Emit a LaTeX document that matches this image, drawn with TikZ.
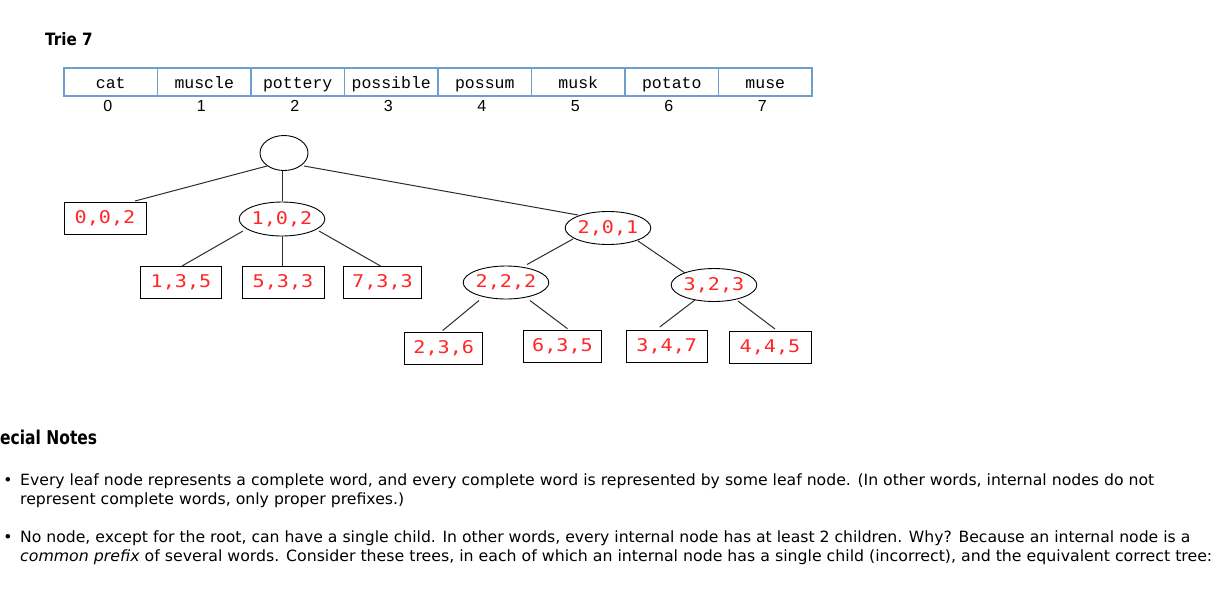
\documentclass[tikz,border=0pt]{standalone}
\usepackage{fontspec}
\usepackage{graphicx}
\setmainfont{DejaVu Sans}
\newfontfamily\cellfont{Liberation Mono}
\newfontfamily\idxfont{Liberation Sans}
\newfontfamily\keyfont{DejaVu Sans Mono}
\usetikzlibrary{shapes.geometric}
\definecolor{cellblue}{RGB}{110,157,208}
\definecolor{keyred}{RGB}{255,38,38}
\definecolor{edgegray}{RGB}{45,45,45}
\tikzset{
  cellbox/.style={draw=cellblue,line width=1.8pt,minimum width=93.5pt,minimum height=28pt,inner sep=0pt},
  celltext/.style={anchor=base,inner sep=0pt,font=\cellfont\fontsize{16.5}{18}\selectfont},
  idxtext/.style={anchor=base,inner sep=0pt,font=\idxfont\fontsize{16}{18}\selectfont},
  keyrect/.style={draw=black,line width=0.9pt,rectangle,minimum height=32pt,inner sep=0pt,text=keyred,font=\keyfont\fontsize{17.5}{19}\selectfont},
  keyell/.style={draw=black,line width=0.9pt,ellipse,minimum width=82pt,minimum height=33pt,inner sep=0pt,text=keyred,font=\keyfont\fontsize{17.5}{19}\selectfont},
  edge/.style={draw=edgegray,line width=1pt},
  notetext/.style={anchor=base west,inner sep=0pt,font=\fontsize{15.5}{19}\selectfont},
  bullettext/.style={anchor=base,inner sep=0pt,font=\fontsize{15.5}{19}\selectfont},
}
\newcommand{\keylabel}[1]{\scalebox{1.15}[1]{#1}}
\begin{document}
\begin{tikzpicture}[x=1pt,y=-1pt]
\useasboundingbox[fill=white] (0,0) rectangle (1226,611);
% title
\node[anchor=base west,inner sep=0pt,font=\bfseries\fontsize{17}{20}\selectfont] (title) at (45,45) {\resizebox{47.5pt}{\height}{Trie 7}};
% array
\foreach \w [count=\i from 0] in {cat,muscle,pottery,possible,possum,musk,potato,muse}{
  \node[cellbox] (c\i) at ({64+93.5*(\i+0.5)},82) {};
  \node[celltext] (w\i) at ({64+93.5*(\i+0.5)},88.3) {\w};
  \node[idxtext] (x\i) at ({64+93.5*(\i+0.5)-3},111.7) {\i};
}
% tree nodes
\node[ellipse,draw=black,line width=0.9pt,minimum width=48pt,minimum height=35pt,inner sep=0pt] (root) at (284,153) {};
\node[keyrect,minimum width=82pt] (n002) at (105,218) {\keylabel{0,0,2}};
\node[keyell,minimum width=83pt,minimum height=34pt] (n102) at (282,219) {\keylabel{1,0,2}};
\node[keyrect,minimum width=81pt] (n135) at (181,282) {\keylabel{1,3,5}};
\node[keyrect,minimum width=82pt] (n533) at (283,282) {\keylabel{5,3,3}};
\node[keyrect,minimum width=78pt] (n733) at (382.5,282) {\keylabel{7,3,3}};
\node[keyell] (n201) at (608,228) {\keylabel{2,0,1}};
\node[keyell] (n222) at (506,282.5) {\keylabel{2,2,2}};
\node[keyell] (n323) at (714,285) {\keylabel{3,2,3}};
\node[keyrect,minimum width=78pt] (n236) at (443.7,348.5) {\keylabel{2,3,6}};
\node[keyrect,minimum width=78pt] (n635) at (562.5,346.7) {\keylabel{6,3,5}};
\node[keyrect,minimum width=81pt] (n347) at (666.7,346) {\keylabel{3,4,7}};
\node[keyrect,minimum width=82pt] (n445) at (770,347) {\keylabel{4,4,5}};
% edges
\draw[edge] ([shift={(-17,13)}]root.center) -- ([shift={(30,-17)}]n002.center);
\draw[edge] ([shift={(-2,17.5)}]root.center) -- ([shift={(0,-18)}]n102.center);
\draw[edge] ([shift={(20,13)}]root.center) -- ([shift={(-30,-13)}]n201.center);
\draw[edge] ([shift={(-39,12)}]n102.center) -- ([shift={(1,-16)}]n135.center);
\draw[edge] ([shift={(0,17)}]n102.center) -- ([shift={(-1,-16)}]n533.center);
\draw[edge] ([shift={(37,12)}]n102.center) -- ([shift={(-2,-16)}]n733.center);
\draw[edge] ([shift={(-35,11)}]n201.center) -- ([shift={(21,-18)}]n222.center);
\draw[edge] ([shift={(30,13)}]n201.center) -- ([shift={(-29,-12)}]n323.center);
\draw[edge] ([shift={(-27,18)}]n222.center) -- ([shift={(-1,-18)}]n236.center);
\draw[edge] ([shift={(24,18)}]n222.center) -- ([shift={(5,-18)}]n635.center);
\draw[edge] ([shift={(-19,15)}]n323.center) -- ([shift={(-7,-19)}]n347.center);
\draw[edge] ([shift={(24,16)}]n323.center) -- ([shift={(5,-18)}]n445.center);
% notes
\node[anchor=base west,inner sep=0pt,font=\bfseries\fontsize{19}{22}\selectfont] (heading) at (0,444) {\resizebox{97pt}{\height}{ecial Notes}};
\node[bullettext] (b1) at (8,485.5) {•};
\node[notetext] (l1) at (20,485.5) {\resizebox{1134pt}{\height}{Every leaf node represents a complete word, and every complete word is represented by some leaf node. (In other words, internal nodes do not}};
\node[notetext] (l2) at (20,504.5) {\resizebox{384pt}{\height}{represent complete words, only proper prefixes.)}};
\node[bullettext] (b2) at (8,542) {•};
\node[notetext] (l3) at (20,542) {\resizebox{1170pt}{\height}{No node, except for the root, can have a single child. In other words, every internal node has at least 2 children. Why? Because an internal node is a}};
\node[notetext] (l4) at (20,561.5) {\resizebox{1192pt}{\height}{\textit{common prefix} of several words. Consider these trees, in each of which an internal node has a single child (incorrect), and the equivalent correct tree:}};
\end{tikzpicture}
\end{document}
